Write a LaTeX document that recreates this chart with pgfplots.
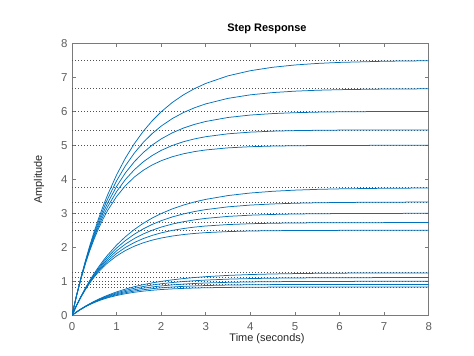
\documentclass[border=0pt]{standalone}
\usepackage{fontspec}
\setmainfont{Liberation Sans}
\usepackage{pgfplots}
\usepackage{pgfplotstable}
\pgfplotsset{compat=1.18}
\definecolor{mblue}{HTML}{0072BD}
\definecolor{axgray}{HTML}{7A7A7A}
\definecolor{tickgray}{HTML}{5E5E5E}
\definecolor{labgray}{HTML}{262626}
\definecolor{dotgray}{HTML}{505050}

% step responses: K/(s+a), K in {6,3,1}, a in {0.8,0.9,1.0,1.1,1.2}
\pgfplotstableread{
t    A1     A2     A3     A4     A5     B1     B2     B3     B4     B5     C1     C2     C3     C4     C5
0    0      0      0      0      0      0      0      0      0      0      0      0      0      0      0
0.1  0.5766 0.5738 0.5710 0.5682 0.5654 0.2883 0.2869 0.2855 0.2841 0.2827 0.0961 0.0956 0.0952 0.0947 0.0942
0.2  1.1090 1.0982 1.0876 1.0772 1.0669 0.5545 0.5491 0.5438 0.5386 0.5334 0.1848 0.1830 0.1813 0.1795 0.1778
0.3  1.6003 1.5775 1.5551 1.5332 1.5116 0.8001 0.7887 0.7775 0.7666 0.7558 0.2667 0.2629 0.2592 0.2555 0.2519
0.4  2.0539 2.0155 1.9781 1.9416 1.9061 1.0269 1.0077 0.9890 0.9708 0.9531 0.3423 0.3359 0.3297 0.3236 0.3177
0.5  2.4726 2.4158 2.3608 2.3076 2.2560 1.2363 1.2079 1.1804 1.1538 1.1280 0.4121 0.4026 0.3935 0.3846 0.3760
0.6  2.8592 2.7817 2.7071 2.6354 2.5663 1.4296 1.3908 1.3536 1.3177 1.2831 0.4765 0.4636 0.4512 0.4392 0.4277
0.7  3.2159 3.1161 3.0205 2.9290 2.8415 1.6080 1.5580 1.5102 1.4645 1.4207 0.5360 0.5193 0.5034 0.4882 0.4736
0.8  3.5453 3.4217 3.3040 3.1921 3.0856 1.7727 1.7108 1.6520 1.5961 1.5428 0.5909 0.5703 0.5507 0.5320 0.5143
1.0  4.1300 3.9562 3.7927 3.6389 3.4941 2.0650 1.9781 1.8964 1.8194 1.7470 0.6883 0.6594 0.6321 0.6065 0.5823
1.2  4.6283 4.4027 4.1929 3.9974 3.8154 2.3142 2.2013 2.0964 1.9987 1.9077 0.7714 0.7338 0.6988 0.6662 0.6359
1.4  5.0529 4.7757 4.5204 4.2852 4.0682 2.5265 2.3878 2.2602 2.1426 2.0341 0.8422 0.7959 0.7534 0.7142 0.6780
1.6  5.4147 5.0871 4.7886 4.5161 4.2670 2.7074 2.5436 2.3943 2.2581 2.1335 0.9025 0.8479 0.7981 0.7527 0.7112
1.8  5.7230 5.3473 5.0082 4.7014 4.4234 2.8615 2.6737 2.5041 2.3507 2.2117 0.9538 0.8912 0.8347 0.7836 0.7372
2.0  5.9858 5.5647 5.1880 4.8502 4.5464 2.9929 2.7823 2.5940 2.4251 2.2732 0.9976 0.9274 0.8647 0.8084 0.7577
2.25 6.2603 5.7867 5.3676 4.9955 4.6640 3.1301 2.8934 2.6838 2.4977 2.3320 1.0434 0.9645 0.8946 0.8326 0.7773
2.5  6.4850 5.9640 5.5075 5.1058 4.7511 3.2425 2.9820 2.7538 2.5529 2.3755 1.0808 0.9940 0.9179 0.8510 0.7918
2.75 6.6690 6.1056 5.6164 5.1897 4.8156 3.3345 3.0528 2.8082 2.5948 2.4078 1.1115 1.0176 0.9361 0.8649 0.8026
3.0  6.8196 6.2186 5.7013 5.2534 4.8634 3.4098 3.1093 2.8506 2.6267 2.4317 1.1366 1.0364 0.9502 0.8756 0.8106
3.5  7.0439 6.3810 5.8188 5.3385 4.9250 3.5219 3.1905 2.9094 2.6692 2.4625 1.1740 1.0635 0.9698 0.8897 0.8208
4.0  7.1943 6.4845 5.8901 5.3876 4.9589 3.5972 3.2423 2.9450 2.6938 2.4794 1.1991 1.0808 0.9817 0.8979 0.8265
4.5  7.2951 6.5505 5.9333 5.4159 4.9774 3.6476 3.2753 2.9667 2.7080 2.4887 1.2159 1.0918 0.9889 0.9027 0.8296
5.0  7.3626 6.5926 5.9596 5.4322 4.9876 3.6813 3.2963 2.9798 2.7161 2.4938 1.2271 1.0988 0.9933 0.9054 0.8313
5.5  7.4079 6.6195 5.9755 5.4416 4.9932 3.7040 3.3097 2.9877 2.7208 2.4966 1.2347 1.1032 0.9959 0.9069 0.8322
6.0  7.4383 6.6365 5.9851 5.4471 4.9963 3.7191 3.3183 2.9926 2.7236 2.4981 1.2397 1.1061 0.9975 0.9079 0.8327
7.0  7.4723 6.6544 5.9945 5.4521 4.9989 3.7361 3.3272 2.9973 2.7260 2.4995 1.2454 1.1091 0.9991 0.9087 0.8332
8.0  7.4876 6.6617 5.9980 5.4537 4.9997 3.7438 3.3308 2.9990 2.7269 2.4998 1.2479 1.1103 0.9997 0.9090 0.8333
}\resp

% steady-state values
\pgfplotstableread{
x  A1   A2     A3  A4     A5  B1   B2     B3  B4     B5  C1   C2     C3  C4     C5
0  7.5  6.6667 6.0 5.4545 5.0 3.75 3.3333 3.0 2.7273 2.5 1.25 1.1111 1.0 0.9091 0.8333
8  7.5  6.6667 6.0 5.4545 5.0 3.75 3.3333 3.0 2.7273 2.5 1.25 1.1111 1.0 0.9091 0.8333
}\finals

\begin{document}
\begin{tikzpicture}[x=1bp,y=1bp]
\path[use as bounding box] (-72,-39.7) rectangle (402,315.3);
\begin{axis}[
  at={(0,0)}, anchor=south west,
  scale only axis, width=356.7bp, height=272bp,
  xmin=0, xmax=8, ymin=0, ymax=8,
  xtick={0,1,...,8}, ytick={0,1,...,8},
  xtick pos=both, ytick pos=both,
  tick align=inside,
  major tick length=3.6bp,
  axis line style={axgray, line width=0.6bp},
  tick style={axgray, line width=0.6bp},
  /pgf/number format/assume math mode=true,
  every tick label/.append style={font=\fontsize{11.5}{13}\selectfont, text=tickgray},
  xticklabel style={anchor=base, inner sep=0pt, yshift=-15.6bp},
  yticklabel style={anchor=east, inner sep=0pt, xshift=-4.3bp},
  title={Step Response},
  every axis title/.style={at={(axis description cs:0.5467,1.0452)}, anchor=base, font=\fontsize{11}{13}\selectfont\bfseries, text=black},
  xlabel={Time (seconds)},
  ylabel={Amplitude},
  every axis x label/.style={at={(axis description cs:0.5467,-0.0945)}, anchor=base, font=\fontsize{11}{13}\selectfont, text=labgray},
  every axis y label/.style={at={(axis description cs:-0.0841,0.5)}, rotate=90, anchor=base, font=\fontsize{11}{13}\selectfont, text=labgray},
  clip=true,
]
\foreach \c in {A1,A2,A3,A4,A5,B1,B2,B3,B4,B5,C1,C2,C3,C4,C5}{
  \addplot[dotgray, line width=0.65bp, dash pattern=on 0.65bp off 2.35bp, forget plot] table[x=x, y=\c] {\finals};
}
\foreach \c in {A1,A2,A3,A4,A5,B1,B2,B3,B4,B5,C1,C2,C3,C4,C5}{
  \addplot[mblue, line width=0.75bp, forget plot] table[x=t, y=\c] {\resp};
}
\end{axis}
\end{tikzpicture}
\end{document}
